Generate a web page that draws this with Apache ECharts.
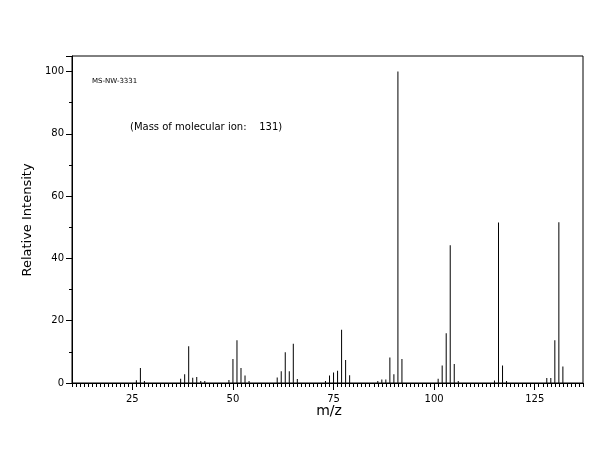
<!DOCTYPE html>
<html>
<head>
<meta charset="utf-8">
<script src="https://cdn.jsdelivr.net/npm/echarts@6/dist/echarts.min.js"></script>
<style>html,body{margin:0;background:#fff}#chart{width:605px;height:461px}</style>
</head>
<body>
<div id="chart"></div>
<script>
// m/z values and their relative intensities (%)
const mz = [26, 27, 28, 37, 38, 39, 40, 41, 42, 43, 49, 50, 51, 52, 53, 54, 61, 62, 63, 64, 65, 66,
  73, 74, 75, 76, 77, 78, 79, 86, 87, 88, 89, 90, 91, 92, 101, 102, 103, 104, 105, 106,
  115, 116, 117, 118, 128, 129, 130, 131, 132];
const intensity = [0.9, 4.8, 0.6, 1.4, 2.8, 11.8, 1.7, 1.9, 0.5, 0.5, 1.0, 7.7, 13.7, 4.8, 2.4, 0.5, 1.8, 3.8, 9.9, 3.8, 12.6, 1.3,
  0.5, 2.4, 3.4, 3.9, 17.1, 7.4, 2.5, 0.6, 1.1, 1.1, 8.2, 2.8, 100, 7.7, 1.4, 5.6, 16.0, 44.2, 6.1, 0.5,
  0.8, 51.5, 5.6, 0.5, 1.6, 1.6, 13.7, 51.6, 5.3];
const xLabels = [25, 50, 75, 100, 125];

const peaks = mz.map((m, i) => [m, intensity[i]]);
const font = 'DejaVu Sans';

const chart = echarts.init(document.getElementById('chart'));
const baseX = {
  type: 'value', min: 10, max: 137, gridIndex: 0, position: 'bottom',
  splitLine: { show: false },
  axisLine: { show: true, lineStyle: { color: '#000' } }
};
chart.setOption({
  animation: false,
  grid: { left: 72, right: 22, top: 56, bottom: 78, show: true, borderColor: '#000', borderWidth: 1 },
  xAxis: [
    Object.assign({}, baseX, {
      axisTick: { customValues: xLabels, length: 7, lineStyle: { color: '#000' } },
      axisLabel: { customValues: xLabels, color: '#000', fontFamily: font, fontSize: 10, margin: 11 }
    }),
    Object.assign({}, baseX, {
      interval: 1,
      axisTick: { length: 4, lineStyle: { color: '#000' } },
      axisLabel: { show: false }
    })
  ],
  yAxis: {
    type: 'value', min: 0, max: 105, interval: 20,
    splitLine: { show: false },
    axisLine: { show: true, lineStyle: { color: '#000' } },
    axisTick: { length: 6, lineStyle: { color: '#000' } },
    minorTick: { show: true, splitNumber: 2, length: 3, lineStyle: { color: '#000' } },
    axisLabel: { color: '#000', fontFamily: font, fontSize: 10, showMaxLabel: false,
      formatter: v => (v % 20 === 0 ? v : '') }
  },
  graphic: [
    { type: 'text', left: 92, top: 78, style: { text: 'MS-NW-3331', font: '7px ' + font, fill: '#000' } },
    { type: 'text', left: 130, top: 122, style: { text: '(Mass of molecular ion:    131)', font: '10px ' + font, fill: '#000' } },
    { type: 'text', x: 28, y: 220, rotation: Math.PI / 2,
      style: { text: 'Relative Intensity', font: '13px ' + font, fill: '#000', align: 'center', verticalAlign: 'middle' } },
    { type: 'text', x: 329, y: 411, style: { text: 'm/z', font: '14px ' + font, fill: '#000', align: 'center', verticalAlign: 'middle' } }
  ],
  series: [{
    type: 'bar', xAxisIndex: 0, data: peaks, barWidth: 1, barMinHeight: 2,
    itemStyle: { color: '#000' }, silent: true
  }]
});
</script>
</body>
</html>
